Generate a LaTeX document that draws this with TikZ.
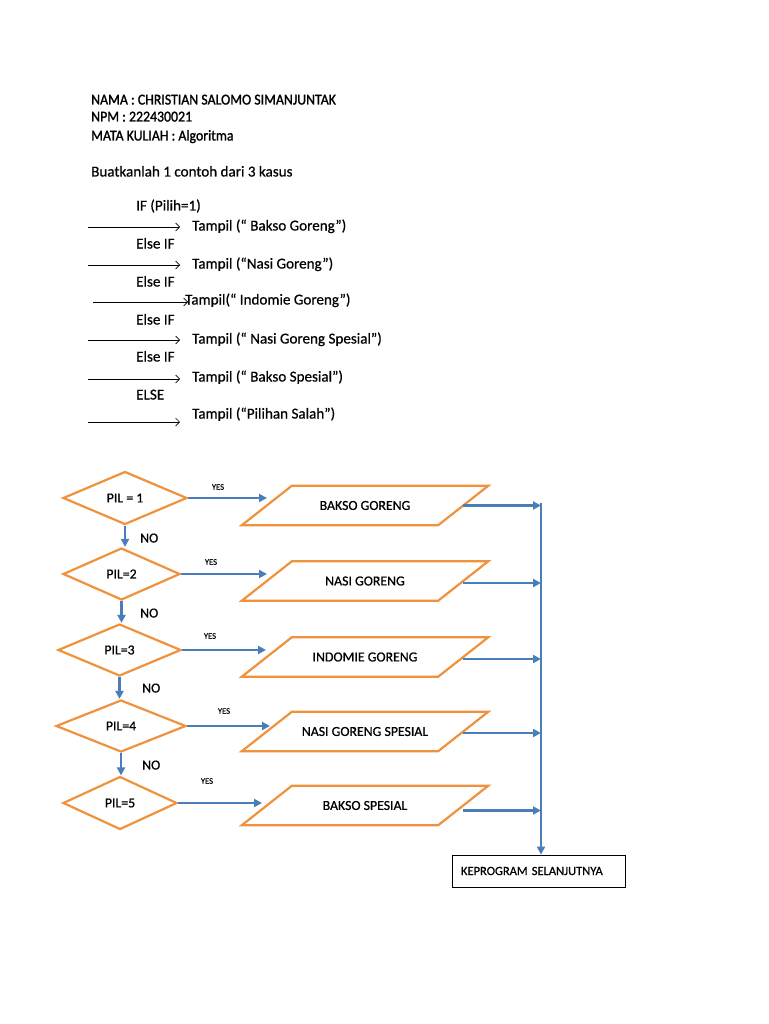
\documentclass[tikz,border=0pt]{standalone}
\usepackage{fontspec}
\setmainfont{Carlito}
\newfontfamily\heavy{Carlito}[FakeBold=0.6]
\newfontfamily\headfont{Carlito}[FakeBold=1.3, FakeStretch=0.915]
\usetikzlibrary{arrows.meta,shapes.geometric,calc}
\definecolor{ofcorange}{RGB}{240,146,60}
\definecolor{ofcblue}{RGB}{74,126,187}
\begin{document}
\begin{tikzpicture}[x=1pt,y=-1pt,
  every node/.style={font=\heavy\fontsize{13.8}{16}\selectfont, inner sep=0pt},
  txt/.style={anchor=west, text height=10pt, text depth=3pt},
  head/.style={txt, font=\headfont\fontsize{15.1}{18}\selectfont},
  code/.style={txt, font=\heavy\fontsize{15.1}{18}\selectfont},
  dec/.style={diamond, draw=ofcorange, line width=2.2pt, inner sep=0pt},
  io/.style={minimum width=196pt, minimum height=39pt},
  iobox/.style={draw=ofcorange, line width=2.2pt},
  yeslbl/.style={font=\heavy\fontsize{8.5}{10}\selectfont},
  flow/.style={draw=ofcblue, line width=2.4pt, -{Triangle[length=8pt,width=8pt]}},
  txtarrow/.style={draw=black, line width=0.7pt, -{Straight Barb[length=4pt,width=8pt]}}]

\useasboundingbox[fill=white] (0,0) rectangle (768,1024);

% header
\node[head] (nama) at (91,101) {NAMA : CHRISTIAN SALOMO SIMANJUNTAK};
\node[head] (npm) at (91,118) {NPM : 222430021};
\node[head] (mk) at (91,137) {MATA KULIAH : Algoritma};
\node[code] (soal) at (91,173) {Buatkanlah 1 contoh dari 3 kasus};

% pseudo code
\node[code] (if1) at (136,207) {IF (Pilih=1)};
\node[code] (t1) at (192,227) {Tampil (“ Bakso Goreng”)};
\node[code] (e2) at (136,245) {Else IF};
\node[code] (t2) at (192,265) {Tampil (“Nasi Goreng”)};
\node[code] (e3) at (136,283) {Else IF};
\node[code] (t3) at (185,301) {Tampil(“ Indomie Goreng”)};
\node[code] (e4) at (136,321) {Else IF};
\node[code] (t4) at (192,340) {Tampil (“ Nasi Goreng Spesial”)};
\node[code] (e5) at (136,358) {Else IF};
\node[code] (t5) at (192,378) {Tampil (“ Bakso Spesial”)};
\node[code] (e6) at (136,396) {ELSE};
\node[code] (t6) at (192,415) {Tampil (“Pilihan Salah”)};

\coordinate (a1s) at (88,227);  \coordinate (a1e) at (180,227);
\coordinate (a2s) at (88,265);  \coordinate (a2e) at (180,265);
\coordinate (a3s) at (93,302);  \coordinate (a3e) at (188,302);
\coordinate (a4s) at (88,340);  \coordinate (a4e) at (180,340);
\coordinate (a5s) at (88,379);  \coordinate (a5e) at (180,379);
\coordinate (a6s) at (88,422);  \coordinate (a6e) at (180,422);
\foreach \i in {1,...,6} \draw[txtarrow] (a\i s) -- (a\i e);

% decisions
\node[dec, minimum width=124pt, minimum height=53pt] (d1) at (125,498) {PIL = 1};
\node[dec, minimum width=117pt, minimum height=52pt] (d2) at (121.5,574) {PIL=2};
\node[dec, minimum width=123pt, minimum height=52pt] (d3) at (119.5,650) {PIL=3};
\node[dec, minimum width=130pt, minimum height=52pt] (d4) at (121,726) {PIL=4};
\node[dec, minimum width=114pt, minimum height=53pt] (d5) at (120,803) {PIL=5};

% outputs
\node[io] (p1) at (365,505.5) {BAKSO GORENG};
\node[io] (p2) at (365,581) {NASI GORENG};
\node[io] (p3) at (365,657) {INDOMIE GORENG};
\node[io] (p4) at (365,731.5) {NASI GORENG SPESIAL};
\node[io] (p5) at (365,805.5) {BAKSO SPESIAL};
\foreach \n in {p1,p2,p3,p4,p5}
  \draw[iobox] ([xshift=-25pt]\n.south west) -- ([xshift=25pt]\n.north west)
     -- ([xshift=25pt]\n.north east) -- ([xshift=-25pt]\n.south east) -- cycle;

% end box
\node[draw=black, line width=0.8pt, minimum width=173pt, minimum height=32pt,
      font=\heavy\fontsize{12.5}{14}\selectfont, text width=155pt, align=left] (k) at (538.5,871) {KEPROGRAM SELANJUTNYA};

% NO arrows
\draw[flow] (d1.south) -- (d1.south |- d2.north);
\draw[flow] (d2.south) -- (d2.south |- d3.north);
\draw[flow] (d3.south) -- (d3.south |- d4.north);
\draw[flow] (d4.south) -- (d4.south |- d5.north);
\node[txt] (no1) at (140,539) {NO};
\node[txt] (no2) at (140,614) {NO};
\node[txt] (no3) at (142,689) {NO};
\node[txt] (no4) at (142,766) {NO};

% YES arrows
\coordinate (y1) at (267,498);
\coordinate (y2) at (267,574);
\coordinate (y3) at (266,650);
\coordinate (y4) at (270,726);
\coordinate (y5) at (262,803);
\draw[flow] (d1.east) -- (y1);
\draw[flow] (d2.east) -- (y2);
\draw[flow] (d3.east) -- (y3);
\draw[flow] (d4.east) -- (y4);
\draw[flow] (d5.east) -- (y5);
\node[yeslbl] (yes1) at (218,487) {YES};
\node[yeslbl] (yes2) at (211,562) {YES};
\node[yeslbl] (yes3) at (210,636) {YES};
\node[yeslbl] (yes4) at (224,711) {YES};
\node[yeslbl] (yes5) at (207,781) {YES};

% collector
\coordinate (vtop) at (541,503);
\draw[flow] (vtop) -- (vtop |- k.north);
\draw[flow] (p1.east) -- (p1.east -| vtop);
\draw[flow] ([yshift=-2pt]p2.east) -- ([yshift=-2pt]p2.east -| vtop);
\draw[flow] ([yshift=-2pt]p3.east) -- ([yshift=-2pt]p3.east -| vtop);
\draw[flow] ([yshift=-1.5pt]p4.east) -- ([yshift=-1.5pt]p4.east -| vtop);
\draw[flow] ([yshift=-5pt]p5.east) -- ([yshift=-5pt]p5.east -| vtop);
\end{tikzpicture}
\end{document}
